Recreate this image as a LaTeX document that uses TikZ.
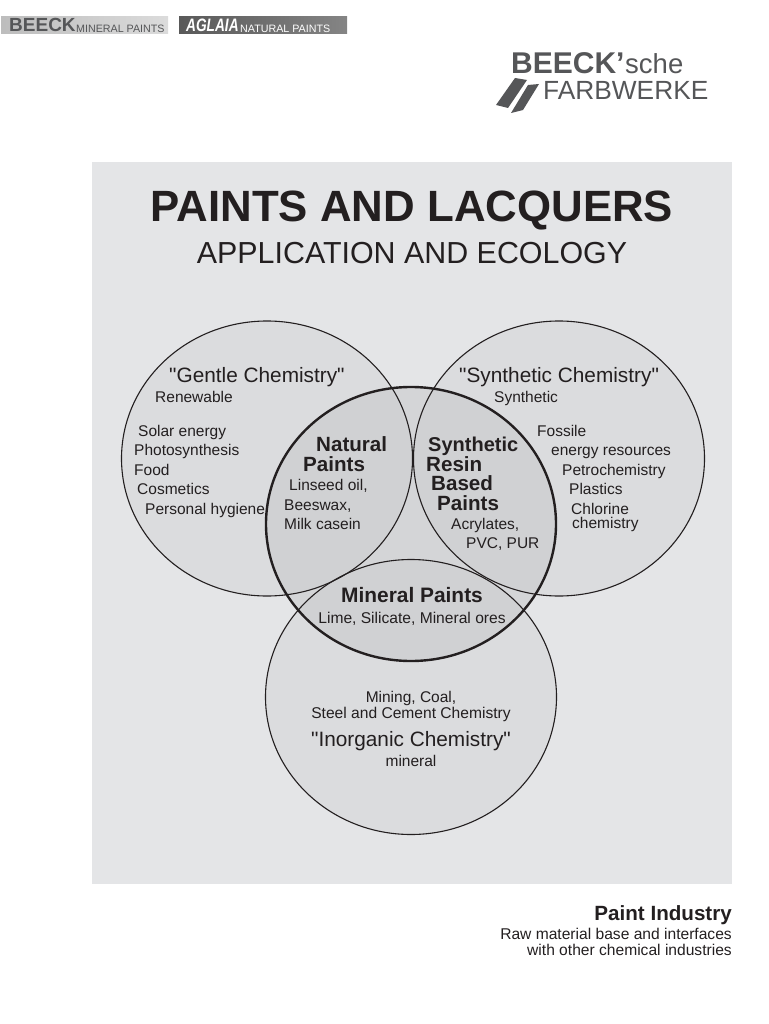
\documentclass[tikz,border=0pt]{standalone}
\usepackage{fontspec}
\usepackage{graphicx}
\setmainfont{Liberation Sans}
\newfontfamily\plainfont{Liberation Sans}
\definecolor{kPanel}{RGB}{228,229,231}
\definecolor{kCircle}{RGB}{219,220,222}
\definecolor{kCentre}{RGB}{212,213,215}
\definecolor{kLens}{RGB}{208,209,211}
\definecolor{kText}{RGB}{35,31,32}
\definecolor{kLogo}{RGB}{85,86,88}
\newcommand{\sz}[1]{\fontsize{#1}{#1}\selectfont}
\newcommand{\qt}{{\plainfont\char34}}
\tikzset{
  lbl/.style={inner sep=0pt,text=kText,anchor=base west,font=\sz{15.5}},
  lblc/.style={lbl,anchor=base,align=center},
  hd/.style={lbl,font=\sz{20.8}},
  bld/.style={lbl,font=\sz{20.6}\bfseries},
  rim/.style={draw=kText,line width=1.1pt},
}
\begin{document}
\begin{tikzpicture}[x=1pt,y=-1pt]
  \useasboundingbox (0,0) rectangle (768,1024);
  % header bars
  \fill[left color=black!26,right color=black!14] (1,17) rectangle (168,34);
  \fill[left color=black!65,right color=black!48] (179,17) rectangle (347,34);
  \node[lbl,font=\sz{19}\bfseries,text=kLogo] (beeck) at (9,32) {BEECK};
  \node[lbl,font=\sz{10.7},text=kLogo] (mineral) at (76,33) {MINERAL PAINTS};
  \node[lbl,font=\sz{18}\bfseries\itshape,text=white] (aglaia) at (186,32) {\scalebox{0.76}[1]{AGLAIA}};
  \node[lbl,font=\sz{10.7},text=white] (natural) at (240,33) {NATURAL PAINTS};
  % logo
  \node[lbl,font=\sz{30}\bfseries,text=kLogo] (firm) at (511,74) {BEECK'};
  \node[lbl,font=\sz{27.5},text=kLogo] (sche) at (625,74) {sche};
  \node[lbl,font=\sz{26.3},text=kLogo] (works) at (543,100) {FARBWERKE};
  \fill[kLogo] (496,105) -- (515,78) -- (527,80) -- (508,108) -- cycle;
  \fill[kLogo] (511,113) -- (528,85) -- (539,84) -- (523,110) -- cycle;
  % panel
  \fill[kPanel] (92,162) rectangle (732,884);
  % circles
  \foreach \x/\y in {267/458.5,559/458.5,411/697} {
    \fill[kCircle] (\x,\y) ellipse [x radius=145.5,y radius=137.5];
  };
  \fill[kCentre] (411,524) ellipse [x radius=145,y radius=137];
  % overlaps
  \foreach \x/\y in {267/458.5,559/458.5,411/697} {
    \begin{scope}
      \clip (411,524) ellipse [x radius=145,y radius=137];
      \fill[kLens] (\x,\y) ellipse [x radius=145.5,y radius=137.5];
    \end{scope}
  };
  \foreach \x/\y in {267/458.5,559/458.5,411/697} {
    \draw[rim] (\x,\y) ellipse [x radius=145.5,y radius=137.5];
  };
  \draw[rim,line width=2.4pt] (411,524) ellipse [x radius=145,y radius=137];
  % title
  \node[lblc,font=\sz{43.8}\bfseries] (title) at (412,222) {PAINTS AND LACQUERS};
  \node[lblc,font=\sz{30.4}] (subtitle) at (412,263) {APPLICATION AND ECOLOGY};
  % left circle
  \node[hd] (gentle) at (169,382) {\qt Gentle Chemistry\qt};
  \node[lbl] (renew) at (155,402) {Renewable};
  \node[lbl] (solar) at (138,436) {Solar energy};
  \node[lbl] (photo) at (134,455) {Photosynthesis};
  \node[lbl] (food) at (134,475) {Food};
  \node[lbl] (cosm) at (137,494) {Cosmetics};
  \node[lbl] (hyg) at (145,514) {Personal hygiene};
  % right circle
  \node[hd] (synchem) at (459,382) {\qt Synthetic Chemistry\qt};
  \node[lbl] (synth) at (494,402) {Synthetic};
  \node[lbl] (foss) at (537,436) {Fossile};
  \node[lbl] (enres) at (551,455) {energy resources};
  \node[lbl] (petro) at (562,475) {Petrochemistry};
  \node[lbl] (plast) at (569,494) {Plastics};
  \node[lbl] (chlor) at (571,514) {Chlorine};
  \node[lbl] (chem) at (572,528) {chemistry};
  % natural paints
  \node[bld] (nat) at (316,451) {Natural};
  \node[bld] (natp) at (303,471) {Paints};
  \node[lbl] (lin) at (289,490) {Linseed oil,};
  \node[lbl] (bees) at (284,510) {Beeswax,};
  \node[lbl] (milk) at (284,529) {Milk casein};
  % synthetic resin
  \node[bld,font=\sz{20}\bfseries] (syn) at (428,451) {Synthetic};
  \node[bld] (res) at (426,471) {Resin};
  \node[bld] (bas) at (431,490) {Based};
  \node[bld] (pnt) at (437,510) {Paints};
  \node[lbl] (acr) at (451,529) {Acrylates,};
  \node[lbl] (pvc) at (466,548) {PVC, PUR};
  % mineral paints
  \node[lblc,font=\sz{20.9}\bfseries] (min) at (412,602) {Mineral Paints};
  \node[lblc,font=\sz{15.6}] (lime) at (412,623) {Lime, Silicate, Mineral ores};
  % bottom circle
  \node[lblc] (mining) at (411,702) {Mining, Coal,};
  \node[lblc,font=\sz{15.6}] (steel) at (411,718) {Steel and Cement Chemistry};
  \node[lblc,font=\sz{20.8}] (inorg) at (411,746) {\qt Inorganic Chemistry\qt};
  \node[lblc] (minl) at (411,766) {mineral};
  % caption
  \node[lbl,anchor=base east,font=\sz{20.6}\bfseries] (cap) at (732,920) {Paint Industry};
  \node[lbl,anchor=base east,font=\sz{15.6}] (capa) at (732,939) {Raw material base and interfaces};
  \node[lbl,anchor=base east,font=\sz{15.6}] (capb) at (732,955) {with other chemical industries};
\end{tikzpicture}
\end{document}
